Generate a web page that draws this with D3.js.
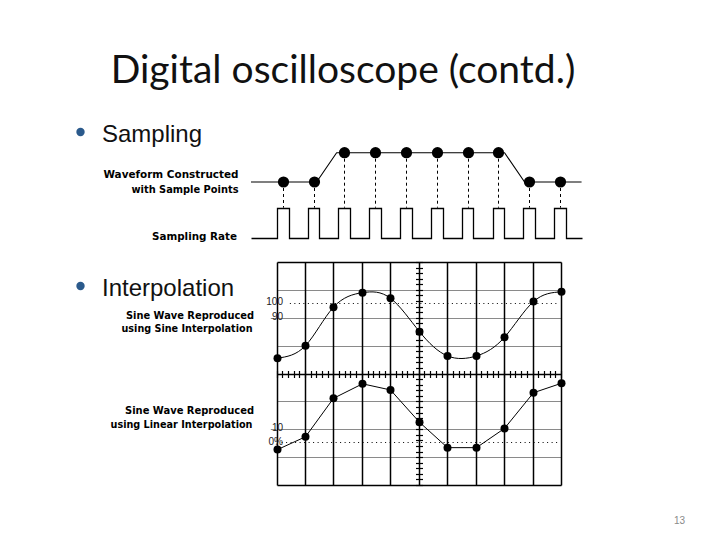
<!DOCTYPE html>
<html>
<head>
<meta charset="utf-8">
<script src="https://cdn.jsdelivr.net/npm/d3@7.9.0/dist/d3.min.js"></script>
<style>
  html, body { margin: 0; padding: 0; background: #fff; }
  svg { display: block; }
  .label { font-family: "DejaVu Sans", sans-serif; font-weight: bold; font-size: 10px; fill: #000; }
  .num { font-family: "Liberation Sans", Arial, sans-serif; font-size: 10px; fill: #222; }
</style>
</head>
<body>
<svg id="slide" width="728" height="546"></svg>
<script>
/* --- Slide text --- */
const titleText = 'Digital oscilloscope (contd.)';
const bullets = ['Sampling', 'Interpolation'];
const pageNumber = '13';

/* --- Sampling: 10 samples, levels 0 = low, 1 = high --- */
const sampleIndex = [0, 1, 2, 3, 4, 5, 6, 7, 8, 9];
const sampleLevel = [0, 0, 1, 1, 1, 1, 1, 1, 0, 0];
// waveform corners (in sample index units)
const waveT = [-1.03, 1.1, 1.75, 7.2, 7.85, 9.7];
const waveLevel = [0, 0, 1, 1, 0, 0];
const pulseWidth = 0.38;   // clock pulse width, in sample periods

/* --- Interpolation: 11 samples, values in grid divisions from centre line --- */
const interpIndex = [0, 1, 2, 3, 4, 5, 6, 7, 8, 9, 10];
const sineValues = [0.55, 1.0, 2.38, 2.9, 2.7, 1.5, 0.63, 0.63, 1.3, 2.58, 2.93];
const linearValues = [-2.73, -2.27, -0.89, -0.37, -0.59, -1.75, -2.66, -2.66, -1.97, -0.69, -0.35];
const gridRows = [-4, -3, -2, -1, 0, 1, 2, 3, 4];
const gridCols = [0, 1, 2, 3, 4, 5, 6, 7, 8, 9, 10];
const refLevels = [2.54, -2.47];          // dotted 100 % / 0 % lines
const refLevelLabels = ['100', '0%'];
const gridLevels = [2, -2];               // 90 / 10 marks on grid rows
const gridLevelLabels = ['90', '10'];

const sampleCaption = ['Waveform Constructed', 'with Sample Points'];
const rateCaption = 'Sampling Rate';
const sineCaption = ['Sine Wave Reproduced', 'using Sine Interpolation'];
const linearCaption = ['Sine Wave Reproduced', 'using Linear Interpolation'];


const svg = d3.select('#slide');
const px = v => Math.round(v) + 0.5;   // snap 1px lines to pixel centres

/* --- Title + bullets --- */
svg.append('text')
  .attr('x', 343).attr('y', 83)
  .attr('text-anchor', 'middle')
  .style('font-family', 'Lato, sans-serif')
  .style('font-size', '39px')
  .style('fill', '#111')
  .text(titleText);

const bulletY = [142, 296];
bullets.forEach((b, i) => {
  svg.append('circle')
    .attr('cx', 80.5).attr('cy', bulletY[i] - 10).attr('r', 4.2)
    .attr('fill', '#2b5a8c');
  svg.append('text')
    .attr('x', 102).attr('y', bulletY[i])
    .style('font-family', '"Liberation Sans", Arial, sans-serif')
    .style('font-size', '24px')
    .style('fill', '#111')
    .text(b);
});

svg.append('text')
  .attr('x', 685).attr('y', 524)
  .attr('text-anchor', 'end')
  .style('font-family', '"Liberation Sans", Arial, sans-serif')
  .style('font-size', '10px')
  .style('fill', '#8a8a8a')
  .text(pageNumber);

/* helper: right-aligned caption squeezed to a measured width */
function caption(x, y, txt, width) {
  svg.append('text')
    .attr('class', 'label')
    .attr('x', x - width).attr('y', y)
    .attr('textLength', width)
    .attr('lengthAdjust', 'spacingAndGlyphs')
    .text(txt);
}


/* =====================================================
   SAMPLING
   ===================================================== */
const sx = d3.scaleLinear().domain([0, 9]).range([282.7, 560]);
const sy = d3.scaleLinear().domain([0, 1]).range([182, 152.7]);
const clockY = d3.scaleLinear().domain([0, 1]).range([237.5, 207.7]);

const sampling = svg.append('g');

// waveform
sampling.append('path')
  .datum(waveT.map((t, i) => [t, waveLevel[i]]))
  .attr('fill', 'none')
  .attr('stroke', '#000')
  .attr('stroke-width', 1.1)
  .attr('stroke-linejoin', 'round')
  .attr('d', d3.line().x(d => sx(d[0])).y(d => sy(d[1])));

// dashed drop lines from sample to clock pulse
sampling.selectAll('line.drop')
  .data(sampleIndex)
  .join('line')
  .attr('class', 'drop')
  .attr('x1', d => px(sx(d))).attr('x2', d => px(sx(d)))
  .attr('y1', (d, i) => sy(sampleLevel[i]) + 6)
  .attr('y2', clockY(1))
  .attr('stroke', '#000')
  .attr('stroke-width', 1)
  .attr('stroke-dasharray', '3,3');

// sample points
sampling.selectAll('circle')
  .data(sampleIndex)
  .join('circle')
  .attr('cx', d => px(sx(d)))
  .attr('cy', (d, i) => sy(sampleLevel[i]))
  .attr('r', 5.6)
  .attr('fill', '#000');

// clock pulses
const clockPts = [[-1.03, 0]];
sampleIndex.forEach(i => {
  const a = i - pulseWidth / 2, b = i + pulseWidth / 2;
  clockPts.push([a, 0], [a, 1], [b, 1], [b, 0]);
});
clockPts.push([9.7, 0]);
sampling.append('path')
  .datum(clockPts)
  .attr('fill', 'none')
  .attr('stroke', '#000')
  .attr('stroke-width', 1.3)
  .attr('d', d3.line().x(d => px(sx(d[0]))).y(d => px(clockY(d[1]))));

caption(238.5, 177.5, sampleCaption[0], 135);
caption(238.5, 192.5, sampleCaption[1], 107);
caption(237, 239.5, rateCaption, 85);


/* =====================================================
   INTERPOLATION (scope grid)
   ===================================================== */
const ix = d3.scaleLinear().domain([0, 10]).range([276.5, 561]);
const iy = d3.scaleLinear().domain([-4, 4]).range([485, 262]);

const scope = svg.append('g');

// horizontal rows: border + centre in black, others gray
scope.selectAll('line.row')
  .data(gridRows)
  .join('line')
  .attr('class', 'row')
  .attr('x1', px(ix(0))).attr('x2', px(ix(10)))
  .attr('y1', d => px(iy(d))).attr('y2', d => px(iy(d)))
  .attr('stroke', d => (d === 0 || Math.abs(d) === 4) ? '#000' : '#8a8a8a')
  .attr('stroke-width', d => (d === 0 || Math.abs(d) === 4) ? 1.3 : 1);

// vertical columns
scope.selectAll('line.col')
  .data(gridCols)
  .join('line')
  .attr('class', 'col')
  .attr('x1', d => px(ix(d))).attr('x2', d => px(ix(d)))
  .attr('y1', px(iy(4))).attr('y2', px(iy(-4)))
  .attr('stroke', '#000')
  .attr('stroke-width', 1.5);

// minor ticks on centre axes
const minorX = d3.range(0, 10.001, 0.2);
const minorY = d3.range(-4, 4.001, 0.2);
scope.selectAll('line.tx')
  .data(minorX)
  .join('line')
  .attr('class', 'tx')
  .attr('x1', d => px(ix(d))).attr('x2', d => px(ix(d)))
  .attr('y1', px(iy(0)) - 3.5).attr('y2', px(iy(0)) + 3.5)
  .attr('stroke', '#000')
  .attr('stroke-width', 1.2);
scope.selectAll('line.ty')
  .data(minorY)
  .join('line')
  .attr('class', 'ty')
  .attr('x1', px(ix(5)) - 3.5).attr('x2', px(ix(5)) + 3.5)
  .attr('y1', d => px(iy(d))).attr('y2', d => px(iy(d)))
  .attr('stroke', '#000')
  .attr('stroke-width', 1.2);

// dotted reference levels + labels
const refStart = [0.47, 0.18];
refLevels.forEach((v, i) => {
  scope.append('line')
    .attr('x1', ix(refStart[i])).attr('x2', ix(9.95))
    .attr('y1', px(iy(v))).attr('y2', px(iy(v)))
    .attr('stroke', '#000')
    .attr('stroke-dasharray', '1,3.5');
  svg.append('text')
    .attr('class', 'num')
    .attr('x', 283).attr('y', iy(v) + 2.5)
    .attr('text-anchor', 'end')
    .text(refLevelLabels[i]);
});
gridLevels.forEach((v, i) => {
  scope.append('line')
    .attr('x1', ix(-0.2)).attr('x2', ix(0))
    .attr('y1', px(iy(v))).attr('y2', px(iy(v)))
    .attr('stroke', '#8a8a8a')
    .attr('stroke-width', 1);
  svg.append('text')
    .attr('class', 'num')
    .attr('x', 283).attr('y', iy(v) + (i === 0 ? 2 : 1.5))
    .attr('text-anchor', 'end')
    .text(gridLevelLabels[i]);
});

// traces
const traces = [
  { values: sineValues, curve: d3.curveNatural },
  { values: linearValues, curve: d3.curveLinear }
];
traces.forEach(t => {
  const line = d3.line()
    .x((d, i) => px(ix(interpIndex[i])))
    .y(d => iy(d))
    .curve(t.curve);
  svg.append('path')
    .datum(t.values)
    .attr('fill', 'none')
    .attr('stroke', '#000')
    .attr('stroke-width', 1)
    .attr('d', line);
  svg.append('g').selectAll('circle')
    .data(t.values)
    .join('circle')
    .attr('cx', (d, i) => px(ix(interpIndex[i])))
    .attr('cy', d => iy(d))
    .attr('r', 4)
    .attr('fill', '#000');
});

caption(254, 318.5, sineCaption[0], 128);
caption(252.5, 331.5, sineCaption[1], 131);
caption(254, 413.5, linearCaption[0], 129);
caption(252.5, 427.5, linearCaption[1], 142);
</script>
</body>
</html>
